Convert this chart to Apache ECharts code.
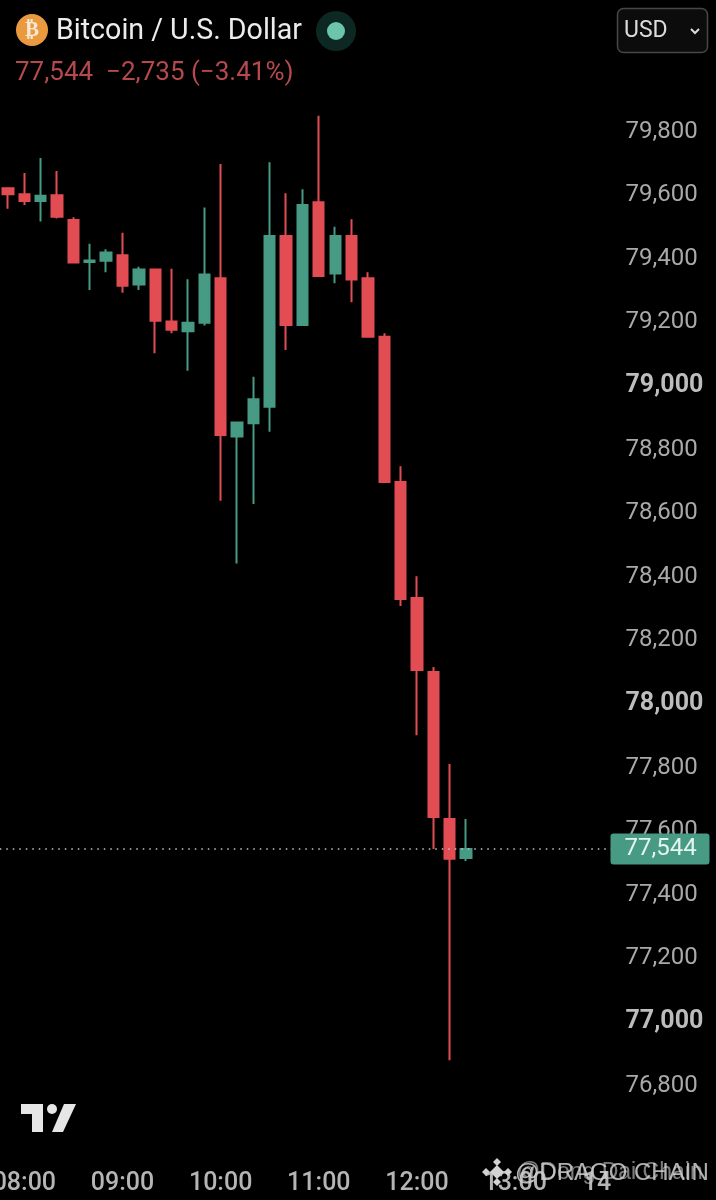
<!DOCTYPE html>
<html><head><meta charset="utf-8">
<style>html,body{margin:0;padding:0;background:#000}#c{width:716px;height:1200px}</style>
<script src="https://cdn.jsdelivr.net/npm/echarts@6/dist/echarts.min.js"></script>
</head><body><div id="c"></div>
<script>
const categories=['07:50','08:00','08:10','08:20','08:30','08:40','08:50','09:00','09:10','09:20','09:30','09:40','09:50','10:00','10:10','10:20','10:30','10:40','10:50','11:00','11:10','11:20','11:30','11:40','11:50','12:00','12:10','12:20','12:30','12:40','12:50','13:00','13:10','13:20','13:30','13:40','14','14:00'];
const xTickLabels=['08:00','09:00','10:00','11:00','12:00','13:00','14'];
const opens =[79622,79603,79582,79600,79522,79390,79394,79411,79319,79366,79203,79172,79199,79339,78841,78883,78935,79472,79192,79578,79354,79472,79339,79155,78698,78333,78101,77638,77516];
const closes=[79603,79582,79598,79532,79388,79395,79420,79315,79366,79205,79177,79199,79351,78846,78885,78958,79472,79192,79569,79346,79472,79335,79155,78698,78330,78107,77645,77513,77544];
const lows  =[79557,79569,79517,79527,79387,79302,79358,79293,79302,79103,79166,79048,79190,78639,78442,78629,78856,79113,79189,79344,79323,79263,79154,78696,78308,77902,77544,76880,77506];
const highs =[79625,79670,79717,79676,79531,79447,79430,79482,79375,79368,79369,79336,79561,79698,78887,79029,79704,79606,79619,79850,79501,79524,79358,79166,78748,78402,78116,77811,77638];
const boldTicks=[79000,78000,77000];
const hiddenTicks=[80000,76600];
const lastPrice=77544;
const RED='#e24d53',GREEN='#479a84',TICK='#a9a9a9';
const FONT='Roboto, "Liberation Sans", sans-serif';
const candles=opens.map((o,i)=>[o,closes[i],lows[i],highs[i]]);
const chart=echarts.init(document.getElementById('c'),null,{renderer:'canvas'});
const txt=(x,y,text,size,fill,extra)=>({type:'text',x,y,z:20,style:Object.assign({text,fontSize:size,fill,fontFamily:FONT,textVerticalAlign:'middle',verticalAlign:'middle'},extra||{})});
chart.setOption({
  animation:false,
  backgroundColor:'#000',
  grid:{left:-0.2,width:621.7,top:68,height:1081.2,outerBoundsMode:'none'},
  xAxis:{type:'category',data:categories,boundaryGap:true,
    axisLine:{show:false},axisTick:{show:false},splitLine:{show:false},
    axisLabel:{interval:0,margin:22,hideOverlap:false,color:'#b5b5b5',fontSize:25,fontWeight:500,fontFamily:FONT,
      formatter:v=>xTickLabels.includes(v)?v:''}},
  yAxis:{type:'value',position:'right',min:76600,max:80000,interval:200,scale:true,
    axisLine:{show:false},axisTick:{show:false},splitLine:{show:false},
    axisLabel:{margin:4,fontFamily:FONT,fontSize:24,color:TICK,
      formatter:v=>{
        if(hiddenTicks.includes(v))return '';
        const s=v.toLocaleString('en-US');
        return boldTicks.includes(v)?'{b|'+s+'}':s;},
      rich:{b:{fontFamily:FONT,fontSize:25,fontWeight:700,color:'#bdbdbd'}}}},
  series:[{type:'candlestick',data:candles,barWidth:10.8,z:5,
    itemStyle:{color:GREEN,color0:RED,borderColor:GREEN,borderColor0:RED,borderWidth:2},
    markLine:{silent:true,symbol:'none',z:10,animation:false,
      lineStyle:{color:'#c4c4c4',type:[1.5,5],width:1.5},
      label:{show:true,position:'end',distance:-11,
        formatter:()=>lastPrice.toLocaleString('en-US'),
        color:'#e6f4ef',fontSize:24,fontFamily:FONT,backgroundColor:GREEN,
        borderRadius:3,padding:[4,13,3,14],width:72,align:'left'},
      data:[{yAxis:lastPrice}]}}],
  graphic:[
    {type:'circle',z:20,shape:{cx:32,cy:30,r:16},style:{fill:'#ea9a3e'}},
    txt(32,30.5,'₿',21,'#f8e8d2',{align:'center',fontWeight:700,fontFamily:'"DejaVu Sans"'}),
    txt(56,32,'Bitcoin / U.S. Dollar',28.6,'#ececec'),
    {type:'circle',z:20,shape:{cx:336,cy:31,r:20},style:{fill:'#0d2723'}},
    {type:'circle',z:21,shape:{cx:336,cy:31,r:9},style:{fill:'#6cc4aa'}},
    txt(15,73,'77,544  −2,735 (−3.41%)',26,'#b5494d'),
    {type:'rect',z:20,shape:{x:617.5,y:8.5,width:90,height:44,r:6},style:{fill:'#0c0c0c',stroke:'#474747',lineWidth:1.5}},
    txt(624,31,'USD',23,'#dcdcdc'),
    {type:'polyline',z:21,shape:{points:[[691,29],[695,33],[699,29]]},style:{stroke:'#dcdcdc',lineWidth:2,fill:null}},
    {type:'polygon',z:20,shape:{points:[[21,1104],[43,1104],[43,1132],[32,1132],[32,1114],[21,1114]]},style:{fill:'#e6e6e6'}},
    {type:'circle',z:20,shape:{cx:52,cy:1109,r:5},style:{fill:'#e6e6e6'}},
    {type:'polygon',z:20,shape:{points:[[64,1104],[76,1104],[63,1132],[52,1132]]},style:{fill:'#e6e6e6'}},
    ...[[497,1172,7],[486,1172,4],[508,1172,4],[497,1162,4],[497,1182,4]].map(([x,y,r])=>({type:'polygon',z:25,shape:{points:[[x,y-r],[x+r,y],[x,y+r],[x-r,y]]},style:{fill:'#d2d2d2'}})),
    txt(515,1173,'@DRAGO CHAIN',24,'#d0d0d0',{opacity:0.85,fontFamily:'"Liberation Sans"'}),
    txt(517,1173,'@Dong Dai Chain',23,'#cfcfcf',{opacity:0.6,fontFamily:'"Liberation Sans"'})
  ]
});
</script></body></html>
